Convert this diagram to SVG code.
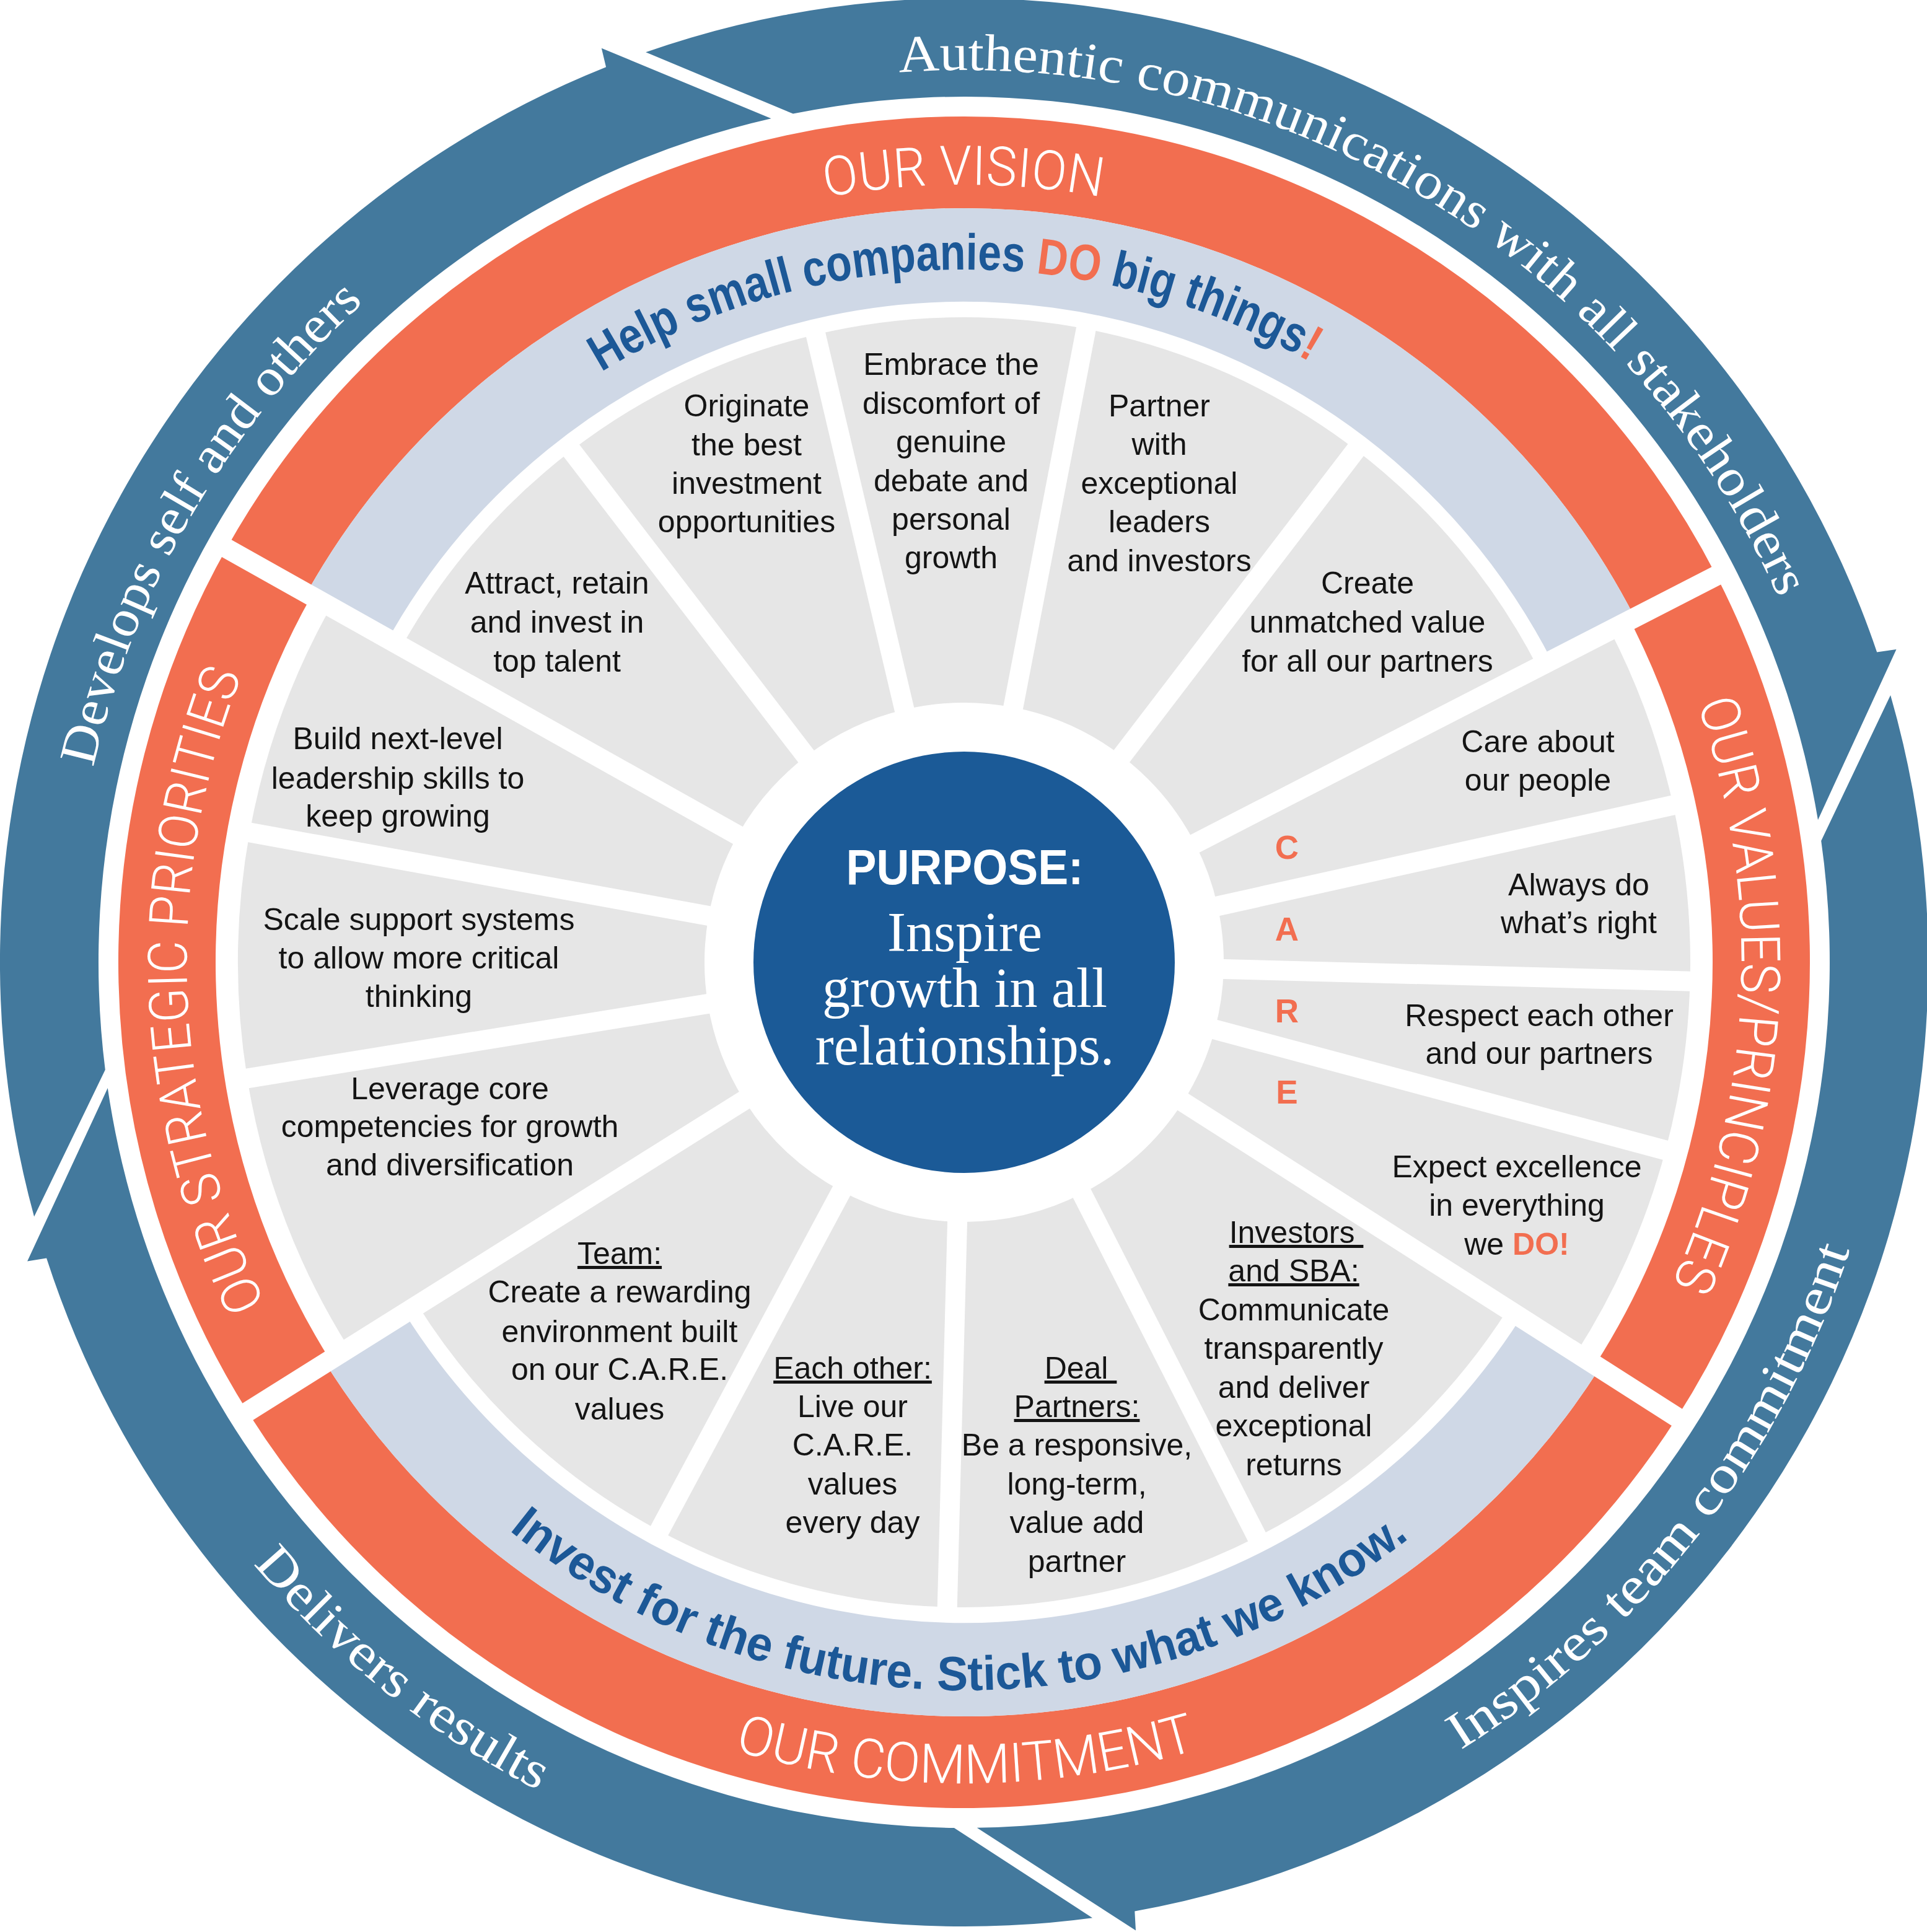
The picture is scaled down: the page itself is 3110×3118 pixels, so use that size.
<svg xmlns="http://www.w3.org/2000/svg" width="3110" height="3118" viewBox="0 0 3110 3118">
<style>
.ring{fill:#43799D}
.band{fill:none}
.or{stroke:#F26E50}
.lb{stroke:#CFD8E6}
.cell{fill:none;stroke:#E6E6E6}
.top{stroke-width:622}
.side{stroke-width:753}
.sep line{stroke:#fff;stroke-width:32}
.ct{font-family:"Liberation Sans",Arial,sans-serif;font-size:50px;fill:#141414;text-anchor:middle}
.ser{font-family:"Liberation Serif","Times New Roman",serif;font-size:84px;fill:#fff;text-anchor:middle}
.bandt{font-family:Roboto,"Liberation Sans",sans-serif;font-weight:300;font-size:88px;fill:#fff;text-anchor:middle}
.lbt{font-family:"Liberation Sans",Arial,sans-serif;font-weight:bold;fill:#1C5897;text-anchor:middle}
.care{font-family:"Liberation Sans",Arial,sans-serif;font-weight:bold;font-size:53px;fill:#F26E50;text-anchor:middle}
.u{text-decoration:underline}
.hl{fill:#F26E50}
.b{font-weight:bold}
</style>
<defs>
<path id="pcw1440" d="M 1556 2993 A 1440 1440 0 0 1 1556 113 A 1440 1440 0 0 1 1556 2993"/>
<path id="pccw1503" d="M 1556 50 A 1503 1503 0 0 0 1556 3056 A 1503 1503 0 0 0 1556 50"/>
<path id="pcw1255" d="M 1556 2808 A 1255 1255 0 0 1 1556 298 A 1255 1255 0 0 1 1556 2808"/>
<path id="pccw1325" d="M 1556 228 A 1325 1325 0 0 0 1556 2878 A 1325 1325 0 0 0 1556 228"/>
<path id="pcw1118" d="M 1556 2671 A 1118 1118 0 0 1 1556 435 A 1118 1118 0 0 1 1556 2671"/>
<path id="pccw1175" d="M 1556 378 A 1175 1175 0 0 0 1556 2728 A 1175 1175 0 0 0 1556 378"/>
</defs>
<rect width="3110" height="3118" fill="#fff"/>

<g id="arrows">
<g id="arrow-authentic">
<path class="ring" d="M 1042.2 84.3 A 1556 1556 0 0 1 3029.2 1052.4 L 3060.5 1048.1 L 2934.0 1323.2 A 1397 1397 0 0 0 1279.9 183.6 Z"/>
<text class="ser"><textPath href="#pcw1440" startOffset="5299.2" textLength="1761.8" lengthAdjust="spacingAndGlyphs">Authentic communications with all stakeholders</textPath></text>
</g>
<g id="arrow-inspires">
<path class="ring" d="M 3051.1 1122.0 A 1556 1556 0 0 1 1831.3 3084.4 L 1833.0 3115.6 L 1576.7 2949.8 A 1397 1397 0 0 0 2939.2 1357.1 Z"/>
<text class="ser"><textPath href="#pccw1503" startOffset="6088.5" textLength="1044" lengthAdjust="spacingAndGlyphs">Inspires team commitment</textPath></text>
</g>
<g id="arrow-delivers">
<path class="ring" d="M 1763.1 3095.2 A 1556 1556 0 0 1 75.1 2030.5 L 44.1 2035.5 L 173.8 1756.1 A 1397 1397 0 0 0 1539.9 2949.9 Z"/>
<text class="ser"><textPath href="#pccw1503" startOffset="3711.9" textLength="591.5" lengthAdjust="spacingAndGlyphs">Delivers results</textPath></text>
</g>
<g id="arrow-develops">
<path class="ring" d="M 55.1 1963.6 A 1556 1556 0 0 1 978.1 108.3 L 970.8 77.8 L 1244.6 191.2 A 1397 1397 0 0 0 169.8 1726.6 Z"/>
<text class="ser"><textPath href="#pcw1440" startOffset="3019.7" textLength="882" lengthAdjust="spacingAndGlyphs">Develops self and others</textPath></text>
</g>
</g>

<g id="band-vision">
<circle class="band or" cx="1556" cy="1553" r="1291" stroke-width="148" stroke-dasharray="2782.7 9000" transform="rotate(209.3 1556 1553)"/>
<text class="bandt"><textPath href="#pcw1255" startOffset="3940.5" textLength="447" lengthAdjust="spacingAndGlyphs">OUR VISION</textPath></text>
</g>
<g id="band-values">
<circle class="band or" cx="1556" cy="1553" r="1286.5" stroke-width="157" stroke-dasharray="1341.6 9000" transform="rotate(-27.2 1556 1553)"/>
<text class="bandt"><textPath href="#pcw1255" startOffset="5966.6" textLength="959.4" lengthAdjust="spacingAndGlyphs">OUR VALUES/PRINCIPLES</textPath></text>
</g>
<g id="band-commitment">
<circle class="band or" cx="1556" cy="1553" r="1291" stroke-width="148" stroke-dasharray="2599.1 9000" transform="rotate(32.55 1556 1553)"/>
<text class="bandt"><textPath href="#pccw1325" startOffset="4164.9" textLength="757.6" lengthAdjust="spacingAndGlyphs">OUR COMMITMENT</textPath></text>
</g>
<g id="band-strategic">
<circle class="band or" cx="1556" cy="1553" r="1286.5" stroke-width="157" stroke-dasharray="1378.6 9000" transform="rotate(147.9 1556 1553)"/>
<text class="bandt"><textPath href="#pcw1255" startOffset="1923.2" textLength="1043.7" lengthAdjust="spacingAndGlyphs">OUR STRATEGIC PRIORITIES</textPath></text>
</g>

<g id="vision-statement">
<circle class="band lb" cx="1556" cy="1553" r="1141.5" stroke-width="151" stroke-dasharray="2460.5 9000" transform="rotate(209.3 1556 1553)"/>
<text class="lbt" font-size="82"><textPath href="#pcw1118" startOffset="3495.7" textLength="1200" lengthAdjust="spacingAndGlyphs">Help small companies <tspan class="hl">DO</tspan> big things<tspan class="hl">!</tspan></textPath></text>
</g>
<g id="commitment-statement">
<circle class="band lb" cx="1556" cy="1553" r="1141.5" stroke-width="151" stroke-dasharray="2298.1 9000" transform="rotate(32.55 1556 1553)"/>
<text class="lbt" font-size="78"><textPath href="#pccw1175" startOffset="3680.1" textLength="1566.8" lengthAdjust="spacingAndGlyphs">Invest for the future. Stick to what we know.</textPath></text>
</g>

<g id="cells">
<g id="cell-attract">
<circle class="cell top" cx="1556" cy="1553" r="730" stroke-dasharray="295.6 9000" transform="rotate(209.3 1556 1553)"/>
<text class="ct"><tspan x="899" y="958">Attract, retain</tspan><tspan x="899" y="1021">and invest in</tspan><tspan x="899" y="1084">top talent</tspan></text>
</g>
<g id="cell-originate">
<circle class="cell top" cx="1556" cy="1553" r="730" stroke-dasharray="308.3 9000" transform="rotate(232.5 1556 1553)"/>
<text class="ct"><tspan x="1205" y="672">Originate</tspan><tspan x="1205" y="735">the best</tspan><tspan x="1205" y="797">investment</tspan><tspan x="1205" y="859">opportunities</tspan></text>
</g>
<g id="cell-embrace">
<circle class="cell top" cx="1556" cy="1553" r="730" stroke-dasharray="308.3 9000" transform="rotate(256.7 1556 1553)"/>
<text class="ct"><tspan x="1535" y="605">Embrace the</tspan><tspan x="1535" y="668">discomfort of</tspan><tspan x="1535" y="730">genuine</tspan><tspan x="1535" y="793">debate and</tspan><tspan x="1535" y="855">personal</tspan><tspan x="1535" y="917">growth</tspan></text>
</g>
<g id="cell-partner">
<circle class="cell top" cx="1556" cy="1553" r="730" stroke-dasharray="337.6 9000" transform="rotate(-79.1 1556 1553)"/>
<text class="ct"><tspan x="1871" y="672">Partner</tspan><tspan x="1871" y="734">with</tspan><tspan x="1871" y="797">exceptional</tspan><tspan x="1871" y="859">leaders</tspan><tspan x="1871" y="922">and investors</tspan></text>
</g>
<g id="cell-create">
<circle class="cell top" cx="1556" cy="1553" r="730" stroke-dasharray="323.6 9000" transform="rotate(-52.6 1556 1553)"/>
<text class="ct"><tspan x="2207" y="958">Create</tspan><tspan x="2207" y="1021">unmatched value</tspan><tspan x="2207" y="1084">for all our partners</tspan></text>
</g>
<g id="cell-care">
<circle class="cell side" cx="1556" cy="1553" r="795.5" stroke-dasharray="204.1 9000" transform="rotate(-27.2 1556 1553)"/>
<text class="ct"><tspan x="2482" y="1214">Care about</tspan><tspan x="2482" y="1276">our people</tspan></text>
<text class="care" x="2077" y="1386">C</text>
</g>
<g id="cell-always">
<circle class="cell side" cx="1556" cy="1553" r="795.5" stroke-dasharray="194.4 9000" transform="rotate(-12.5 1556 1553)"/>
<text class="ct"><tspan x="2548" y="1445">Always do</tspan><tspan x="2548" y="1506">what’s right</tspan></text>
<text class="care" x="2077" y="1518">A</text>
</g>
<g id="cell-respect">
<circle class="cell side" cx="1556" cy="1553" r="795.5" stroke-dasharray="187.4 9000" transform="rotate(1.5 1556 1553)"/>
<text class="ct"><tspan x="2484" y="1656">Respect each other</tspan><tspan x="2484" y="1717">and our partners</tspan></text>
<text class="care" x="2077" y="1650">R</text>
</g>
<g id="cell-expect">
<circle class="cell side" cx="1556" cy="1553" r="795.5" stroke-dasharray="243.7 9000" transform="rotate(15 1556 1553)"/>
<text class="ct"><tspan x="2448" y="1900">Expect excellence</tspan><tspan x="2448" y="1962">in everything</tspan><tspan x="2448" y="2025">we <tspan class="b hl">DO!</tspan></tspan></text>
<text class="care" x="2077" y="1781">E</text>
</g>
<g id="cell-investors">
<circle class="cell top" cx="1556" cy="1553" r="730" stroke-dasharray="388 9000" transform="rotate(32.55 1556 1553)"/>
<text class="ct"><tspan class="u" x="2092" y="2006">Investors&#160;</tspan><tspan class="u" x="2088" y="2068">and SBA:</tspan><tspan x="2088" y="2131">Communicate</tspan><tspan x="2088" y="2193">transparently</tspan><tspan x="2088" y="2256">and deliver</tspan><tspan x="2088" y="2318">exceptional</tspan><tspan x="2088" y="2381">returns</tspan></text>
</g>
<g id="cell-deal">
<circle class="cell top" cx="1556" cy="1553" r="730" stroke-dasharray="363.1 9000" transform="rotate(63 1556 1553)"/>
<text class="ct"><tspan class="u" x="1744" y="2225">Deal&#160;</tspan><tspan class="u" x="1738" y="2287">Partners:</tspan><tspan x="1738" y="2349">Be a responsive,</tspan><tspan x="1738" y="2412">long-term,</tspan><tspan x="1738" y="2474">value add</tspan><tspan x="1738" y="2537">partner</tspan></text>
</g>
<g id="cell-eachother">
<circle class="cell top" cx="1556" cy="1553" r="730" stroke-dasharray="340.2 9000" transform="rotate(91.5 1556 1553)"/>
<text class="ct"><tspan class="u" x="1376" y="2225">Each other:</tspan><tspan x="1376" y="2287">Live our</tspan><tspan x="1376" y="2349">C.A.R.E.</tspan><tspan x="1376" y="2412">values</tspan><tspan x="1376" y="2474">every day</tspan></text>
</g>
<g id="cell-team">
<circle class="cell top" cx="1556" cy="1553" r="730" stroke-dasharray="378.4 9000" transform="rotate(118.2 1556 1553)"/>
<text class="ct"><tspan class="u" x="1000" y="2040">Team:</tspan><tspan x="1000" y="2102">Create a rewarding</tspan><tspan x="1000" y="2166">environment built</tspan><tspan x="1000" y="2227">on our C.A.R.E.</tspan><tspan x="1000" y="2291">values</tspan></text>
</g>
<g id="cell-leverage">
<circle class="cell side" cx="1556" cy="1553" r="795.5" stroke-dasharray="317.9 9000" transform="rotate(147.9 1556 1553)"/>
<text class="ct"><tspan x="726" y="1774">Leverage core</tspan><tspan x="726" y="1835">competencies for growth</tspan><tspan x="726" y="1897">and diversification</tspan></text>
</g>
<g id="cell-scale">
<circle class="cell side" cx="1556" cy="1553" r="795.5" stroke-dasharray="270.7 9000" transform="rotate(170.8 1556 1553)"/>
<text class="ct"><tspan x="676" y="1501">Scale support systems</tspan><tspan x="676" y="1563">to allow more critical</tspan><tspan x="676" y="1625">thinking</tspan></text>
</g>
<g id="cell-build">
<circle class="cell side" cx="1556" cy="1553" r="795.5" stroke-dasharray="263.8 9000" transform="rotate(190.3 1556 1553)"/>
<text class="ct"><tspan x="642" y="1209">Build next-level</tspan><tspan x="642" y="1273">leadership skills to</tspan><tspan x="642" y="1334">keep growing</tspan></text>
</g>
</g>

<g id="separators" class="sep">
<line x1="1556" y1="1193" x2="1556" y2="173" transform="rotate(299.3 1556 1553)"/>
<line x1="1556" y1="1193" x2="1556" y2="503" transform="rotate(322.5 1556 1553)"/>
<line x1="1556" y1="1193" x2="1556" y2="503" transform="rotate(346.7 1556 1553)"/>
<line x1="1556" y1="1193" x2="1556" y2="503" transform="rotate(10.9 1556 1553)"/>
<line x1="1556" y1="1193" x2="1556" y2="503" transform="rotate(37.4 1556 1553)"/>
<line x1="1556" y1="1193" x2="1556" y2="173" transform="rotate(62.8 1556 1553)"/>
<line x1="1556" y1="1193" x2="1556" y2="368" transform="rotate(77.5 1556 1553)"/>
<line x1="1556" y1="1193" x2="1556" y2="368" transform="rotate(91.5 1556 1553)"/>
<line x1="1556" y1="1193" x2="1556" y2="368" transform="rotate(105 1556 1553)"/>
<line x1="1556" y1="1193" x2="1556" y2="173" transform="rotate(122.55 1556 1553)"/>
<line x1="1556" y1="1193" x2="1556" y2="503" transform="rotate(153 1556 1553)"/>
<line x1="1556" y1="1193" x2="1556" y2="503" transform="rotate(181.5 1556 1553)"/>
<line x1="1556" y1="1193" x2="1556" y2="503" transform="rotate(208.2 1556 1553)"/>
<line x1="1556" y1="1193" x2="1556" y2="173" transform="rotate(237.9 1556 1553)"/>
<line x1="1556" y1="1193" x2="1556" y2="368" transform="rotate(260.8 1556 1553)"/>
<line x1="1556" y1="1193" x2="1556" y2="368" transform="rotate(280.3 1556 1553)"/>
</g>

<g id="purpose">
<circle cx="1556" cy="1553" r="340" fill="#1B5A97"/>
<text x="1557" y="1427" font-family="Liberation Sans, Arial, sans-serif" font-weight="bold" font-size="80" fill="#fff" text-anchor="middle" textLength="383" lengthAdjust="spacingAndGlyphs">PURPOSE:</text>
<text font-family="Liberation Serif, Times New Roman, serif" font-size="90" fill="#fff" text-anchor="middle"><tspan x="1557" y="1535">Inspire</tspan><tspan x="1557" y="1625">growth in all</tspan><tspan x="1557" y="1718">relationships.</tspan></text>
</g>
<g id="connectors"/>
</svg>
